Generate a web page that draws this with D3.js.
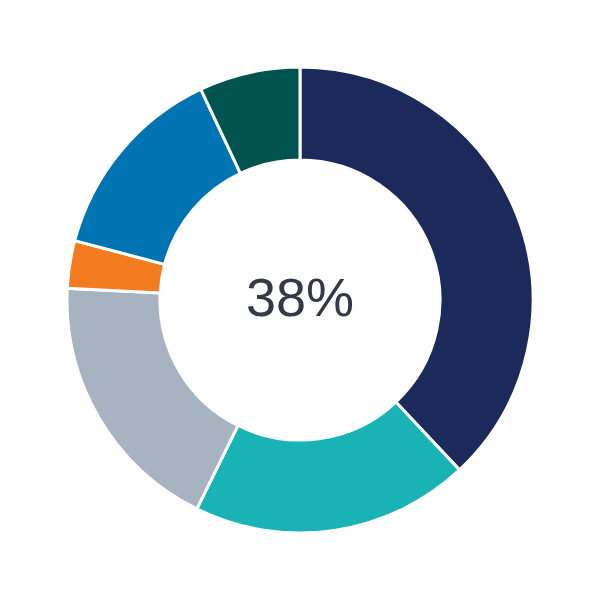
<!DOCTYPE html>
<html>
<head>
<meta charset="utf-8">
<script src="https://cdn.jsdelivr.net/npm/d3@7"></script>
<style>
  body { margin: 0; background: #fff; }
</style>
</head>
<body>
<div id="donut-chart"></div>
<script>
// slice names, shares (percent) and colours, clockwise from 12 o'clock
var categories = ["A", "B", "C", "D", "E", "F"];
var values = [38, 19.3, 18.5, 3.3, 13.9, 7.0];
var colors = ["#1b2a5b", "#1ab3b5", "#a8b3c1", "#f47c20", "#0073b3", "#00534f"];
var centerLabel = "38%";

var width = 600,
    height = 600,
    innerRadius = 140,
    outerRadius = 233;

var data = categories.map(function (c, i) {
    return {name: c, value: values[i], color: colors[i]};
});

var pie = d3.pie()
    .sort(null)
    .value(function (d) { return d.value; });

var arc = d3.arc()
    .innerRadius(innerRadius)
    .outerRadius(outerRadius);

var svg = d3.select("#donut-chart").append("svg")
    .attr("width", width)
    .attr("height", height);

var g = svg.append("g")
    .attr("transform", "translate(" + [width / 2, height / 2] + ")");

g.selectAll(".slice")
    .data(pie(data))
    .enter()
    .append("path")
    .attr("class", "slice")
    .attr("d", arc)
    .attr("fill", function (d) { return d.data.color; })
    .attr("stroke", "white")
    .attr("stroke-width", 3);

g.append("text")
    .attr("text-anchor", "middle")
    .attr("dy", "0.3em")
    .attr("font-family", "'Liberation Sans', Arial, sans-serif")
    .attr("font-size", "54px")
    .attr("fill", "#343a45")
    .text(centerLabel);
</script>
</body>
</html>
